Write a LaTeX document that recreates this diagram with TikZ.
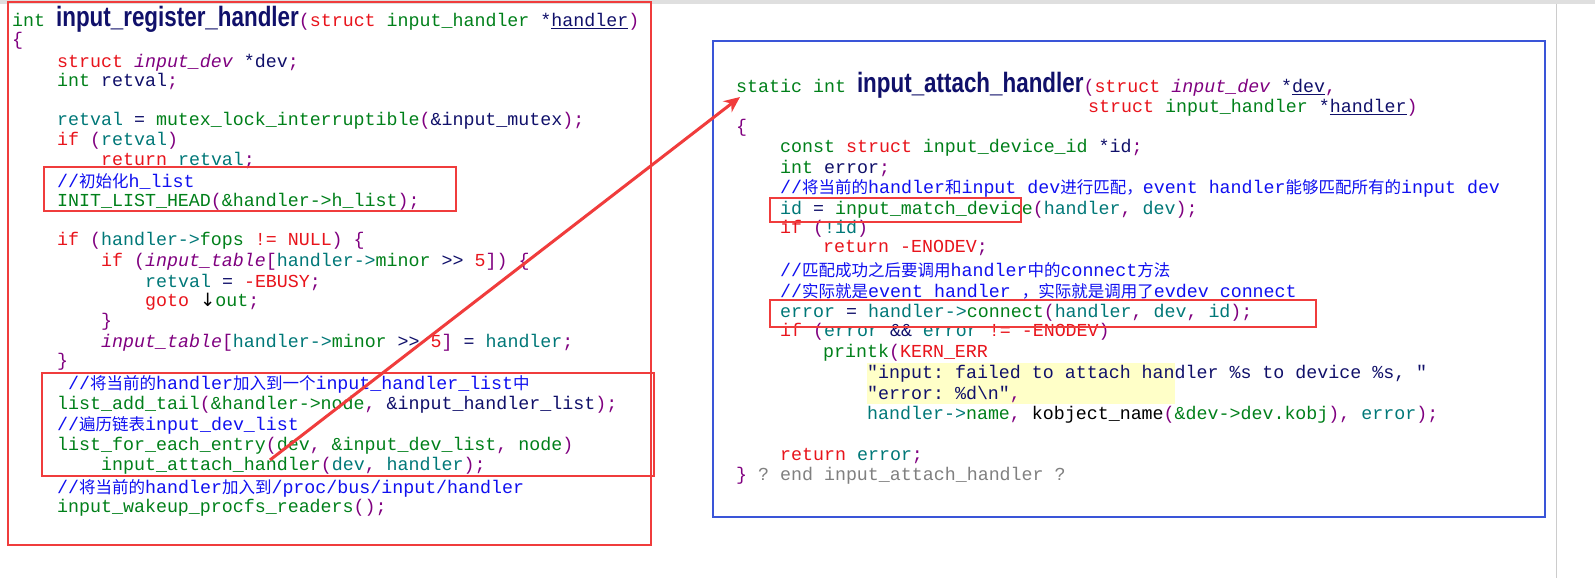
\documentclass[tikz,border=0pt]{standalone}
\usetikzlibrary{arrows.meta}
\usepackage{fontspec}
\setmonofont{Liberation Mono}
\newfontfamily\cjkf{Noto Sans CJK SC}
\newfontfamily\ttlf{Liberation Sans}
\newfontfamily\arrf{DejaVu Sans}
\definecolor{kw}{HTML}{E8141C}
\definecolor{ty}{HTML}{00801A}
\definecolor{va}{HTML}{007878}
\definecolor{nv}{HTML}{10106A}
\definecolor{pu}{HTML}{800080}
\definecolor{cm}{HTML}{1010F0}
\definecolor{redbox}{HTML}{F03C3C}
\definecolor{bluebox}{HTML}{3A55D8}
\definecolor{hl}{HTML}{FFFFC8}
\newcommand\R[1]{\textcolor{kw}{#1}}
\newcommand\G[1]{\textcolor{ty}{#1}}
\newcommand\T[1]{\textcolor{va}{#1}}
\newcommand\N[1]{\textcolor{nv}{#1}}
\newcommand\PP[1]{\textcolor{pu}{#1}}
\newcommand\I[1]{\textcolor{pu}{\itshape #1}}
\newcommand\C[1]{\textcolor{cm}{#1}}
\newcommand\Z[1]{{\fontsize{16.5}{16}\cjkf #1}}
\newcommand\Ttl[1]{\textcolor{nv}{\scalebox{0.8}[1]{\fontsize{28}{28}\ttlf\bfseries #1}}}
\tikzset{code/.style={anchor=west,inner sep=0pt,font=\fontsize{18.3}{20}\selectfont\ttfamily},
 rbox/.style={draw=redbox,line width=2.5pt},
 bbox/.style={draw=bluebox,line width=2.5pt}}
\begin{document}
\begin{tikzpicture}[x=1pt,y=-1pt]
\useasboundingbox (0,0) rectangle (1595,578);
\fill[white] (0,0) rectangle (1595,578);
\fill[gray!25] (0,0) rectangle (1595,4);
\draw[gray!40,line width=1pt] (1556,4) -- (1556,578);
\fill[hl] (867,363) rectangle (1175,404);
% left code
\node[code] (l1) at (12,19) {\G{int} \Ttl{input\_register\_handler}\PP{(}\R{struct} \G{input\_handler} \N{*\underline{handler}}\PP{)}};
\node[code] (l2) at (12,41) {\PP{\{}};
\node[code] (l3) at (57,63) {\R{struct} \I{input\_dev} \N{*dev}\PP{;}};
\node[code] (l4) at (57,81) {\G{int} \N{retval}\PP{;}};
\node[code] (l5) at (57,121) {\T{retval} \N{=} \G{mutex\_lock\_interruptible}\PP{(}\N{\&input\_mutex}\PP{);}};
\node[code] (l6) at (57,141) {\R{if} \PP{(}\T{retval}\PP{)}};
\node[code] (l7) at (101,160) {\R{return} \T{retval}\PP{;}};
\node[code] (l8) at (57,182) {\C{//\Z{初始化}h\_list}};
\node[code] (l9) at (57,202) {\G{INIT\_LIST\_HEAD}\PP{(}\G{\&handler->h\_list}\PP{);}};
\node[code] (l10) at (57,241) {\R{if} \PP{(}\T{handler->}\G{fops} \R{!=} \R{NULL}\PP{)} \PP{\{}};
\node[code] (l11) at (101,262) {\R{if} \PP{(}\I{input\_table}\PP{[}\T{handler->}\G{minor} \N{>>} \R{5}\PP{])} \PP{\{}};
\node[code] (l12) at (145,282) {\T{retval} \N{=} \R{-EBUSY}\PP{;}};
\node[code] (l13) at (145,302) {\R{goto} {\arrf ↓}\G{out}\PP{;}};
\node[code] (l14) at (101,322) {\PP{\}}};
\node[code] (l15) at (101,343) {\I{input\_table}\PP{[}\T{handler->}\G{minor} \N{>>} \R{5}\PP{]} \N{=} \T{handler}\PP{;}};
\node[code] (l16) at (57,362) {\PP{\}}};
\node[code] (l17) at (68,384) {\C{//\Z{将当前的}handler\Z{加入到一个}input\_handler\_list\Z{中}}};
\node[code] (l18) at (57,405) {\G{list\_add\_tail}\PP{(}\G{\&handler->node}\PP{,} \N{\&input\_handler\_list}\PP{);}};
\node[code] (l19) at (57,425) {\C{//\Z{遍历链表}input\_dev\_list}};
\node[code] (l20) at (57,446) {\G{list\_for\_each\_entry}\PP{(}\G{dev}\PP{,} \G{\&input\_dev\_list}\PP{,} \G{node}\PP{)}};
\node[code] (l21) at (101,466) {\G{input\_attach\_handler}\PP{(}\T{dev}\PP{,} \T{handler}\PP{);}};
\node[code] (l22) at (57,488) {\C{//\Z{将当前的}handler\Z{加入到}/proc/bus/input/handler}};
\node[code] (l23) at (57,508) {\G{input\_wakeup\_procfs\_readers}\PP{();}};
% right code
\node[code] (r1) at (736,85) {\G{static int} \Ttl{input\_attach\_handler}\PP{(}\R{struct} \I{input\_dev} \N{*\underline{dev}}\PP{,}};
\node[code] (r2) at (1088,108) {\R{struct} \G{input\_handler} \N{*\underline{handler}}\PP{)}};
\node[code] (r3) at (736,128) {\PP{\{}};
\node[code] (r4) at (780,148) {\G{const} \R{struct} \G{input\_device\_id} \N{*id}\PP{;}};
\node[code] (r5) at (780,168) {\G{int} \N{error}\PP{;}};
\node[code] (r6) at (780,188) {\C{//\Z{将当前的}handler\Z{和}input dev\Z{进行匹配，}event handler\Z{能够匹配所有的}input dev}};
\node[code] (r7) at (780,210) {\T{id} \N{=} \G{input\_match\_device}\PP{(}\T{handler}\PP{,} \T{dev}\PP{);}};
\node[code] (r8) at (780,229) {\R{if} \PP{(}\T{!id}\PP{)}};
\node[code] (r9) at (823,248) {\R{return} \R{-ENODEV}\PP{;}};
\node[code] (r10) at (780,270) {\C{//\Z{匹配成功之后要调用}handler\Z{中的}connect\Z{方法}}};
\node[code] (r11) at (780,291) {\C{//\Z{实际就是}event handler \Z{，实际就是调用了}evdev connect}};
\node[code] (r12) at (780,313) {\T{error} \N{=} \T{handler->}\G{connect}\PP{(}\T{handler}\PP{,} \T{dev}\PP{,} \T{id}\PP{);}};
\node[code] (r13) at (780,332) {\R{if} \PP{(}\T{error} \N{\&\&} \T{error} \R{!=} \R{-ENODEV}\PP{)}};
\node[code] (r14) at (823,353) {\G{printk}\PP{(}\R{KERN\_ERR}};
\node[code] (r15) at (867,374) {\N{"input: failed to attach handler \%s to device \%s, "}};
\node[code] (r16) at (867,394) {\N{"error: \%d\textbackslash n"}\PP{,}};
\node[code] (r17) at (867,415) {\T{handler->}\G{name}\PP{,} kobject\_name\PP{(}\G{\&dev->dev.kobj}\PP{),} \T{error}\PP{);}};
\node[code] (r18) at (780,456) {\R{return} \T{error}\PP{;}};
\node[code] (r19) at (736,476) {\PP{\}} \textcolor{gray}{? end input\_attach\_handler ?}};
% boxes
\draw[rbox] (8,2) rectangle (651,545);
\draw[rbox] (44,167) rectangle (456,211);
\draw[rbox] (42,373) rectangle (654,476);
\draw[bbox] (713,41) rectangle (1545,517);
\draw[rbox,line width=2pt] (770,198) rectangle (1021,222);
\draw[rbox,line width=2pt] (770,300) rectangle (1316,327);
% arrow
\coordinate (a0) at (270,460);
\coordinate (a1) at (740,97);
\draw[redbox,line width=3pt,-{Stealth[length=16pt,width=14pt]}] (a0) -- (a1);
\end{tikzpicture}
\end{document}
